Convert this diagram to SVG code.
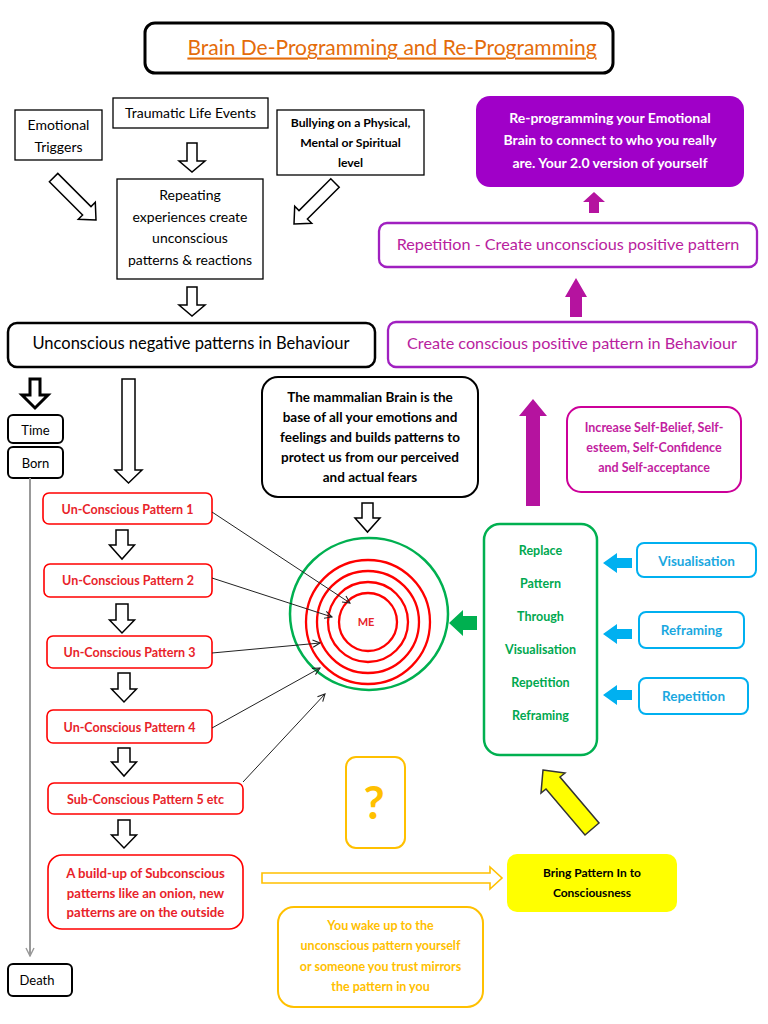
<svg xmlns="http://www.w3.org/2000/svg" width="768" height="1024" viewBox="0 0 768 1024">
<defs>
<style>
text{font-family:Lato,"Open Sans","Liberation Sans",sans-serif;text-anchor:middle;dominant-baseline:central}
.blk{fill:#000;font-size:14px}
.bb{fill:#000;font-size:13.5px;font-weight:bold}
.red{fill:#E8232A;font-size:12.5px;font-weight:bold}
.grn{fill:#00A84F;font-size:12.5px;font-weight:bold}
.blu{fill:#1AA8E0;font-size:13.5px;font-weight:bold}
.mag{fill:#C21DA0;font-size:12.5px;font-weight:bold}
.gold{fill:#FFC000;font-size:12.5px;font-weight:bold}
.box{fill:#fff;stroke:#000;stroke-width:1.3}
.rbox{fill:#fff;stroke:#000;stroke-width:2.5}
.pbox{fill:#fff;stroke:#FF0000;stroke-width:1.6}
.hollow{fill:#fff;stroke:#000;stroke-width:1.5;stroke-linejoin:miter}
.conn{stroke:#222;stroke-width:1;fill:none}
</style>
<marker id="open" viewBox="0 0 10 10" refX="9" refY="5" markerWidth="9" markerHeight="9" orient="auto" markerUnits="userSpaceOnUse">
<path d="M1,1 L9,5 L1,9" fill="none" stroke="#222" stroke-width="1.2"/>
</marker>
<marker id="grayopen" viewBox="0 0 10 10" refX="9" refY="5" markerWidth="10" markerHeight="10" orient="auto" markerUnits="userSpaceOnUse">
<path d="M1,1 L9,5 L1,9" fill="none" stroke="#999" stroke-width="1.4"/>
</marker>
</defs>
<rect width="768" height="1024" fill="#fff"/>

<g id="title">
<rect x="145" y="23" width="468" height="50" rx="10" fill="#fff" stroke="#000" stroke-width="3"/>
<text x="392" y="46" style="fill:#E46C0A;font-size:21px;text-decoration:underline">Brain De-Programming and Re-Programming</text>
</g>

<g id="emotional-triggers">
<rect class="box" x="15" y="110" width="87" height="50"/>
<text class="blk" x="58.5" y="124">Emotional</text>
<text class="blk" x="58.5" y="146">Triggers</text>
</g>
<g id="traumatic">
<rect class="box" x="113" y="98" width="155" height="30"/>
<text class="blk" x="190.5" y="112">Traumatic Life Events</text>
</g>
<g id="bullying">
<rect class="box" x="277" y="110" width="147" height="65"/>
<text class="bb" x="350.5" y="122" style="font-size:12.2px">Bullying on a Physical,</text>
<text class="bb" x="350.5" y="142" style="font-size:12.2px">Mental or Spiritual</text>
<text class="bb" x="350.5" y="162" style="font-size:12.2px">level</text>
</g>
<g id="repeating">
<rect class="box" x="117" y="179" width="146" height="100"/>
<text class="blk" x="190" y="194">Repeating</text>
<text class="blk" x="190" y="216">experiences create</text>
<text class="blk" x="190" y="237">unconscious</text>
<text class="blk" x="190" y="259">patterns &amp; reactions</text>
</g>
<g id="negative-patterns">
<rect class="rbox" x="8" y="323" width="367" height="44" rx="9"/>
<text x="191" y="343" style="fill:#000;font-size:16.5px">Unconscious negative patterns in Behaviour</text>
</g>
<g id="time">
<rect x="8" y="415" width="55" height="28" rx="5" fill="#fff" stroke="#000" stroke-width="2"/>
<text class="blk" x="35.5" y="430" style="font-size:13px">Time</text>
</g>
<g id="born">
<rect x="8" y="447" width="55" height="31" rx="5" fill="#fff" stroke="#000" stroke-width="2"/>
<text class="blk" x="35.5" y="463" style="font-size:13px">Born</text>
</g>
<g id="death">
<rect x="8" y="964" width="64" height="32" rx="5" fill="#fff" stroke="#000" stroke-width="2"/>
<text class="blk" x="37" y="980" style="font-size:13px">Death</text>
</g>

<g id="pattern1">
<rect class="pbox" x="43" y="493" width="169" height="31" rx="6"/>
<text class="red" x="127.5" y="509">Un-Conscious Pattern 1</text>
</g>
<g id="pattern2">
<rect class="pbox" x="44" y="564" width="168" height="33" rx="6"/>
<text class="red" x="128" y="580">Un-Conscious Pattern 2</text>
</g>
<g id="pattern3">
<rect class="pbox" x="47" y="636" width="165" height="32" rx="6"/>
<text class="red" x="129.5" y="652">Un-Conscious Pattern 3</text>
</g>
<g id="pattern4">
<rect class="pbox" x="47" y="710" width="165" height="33" rx="6"/>
<text class="red" x="129.5" y="727">Un-Conscious Pattern 4</text>
</g>
<g id="pattern5">
<rect class="pbox" x="48" y="783" width="195" height="31" rx="6"/>
<text class="red" x="145.5" y="799">Sub-Conscious Pattern 5 etc</text>
</g>
<g id="build-up">
<rect class="pbox" x="48" y="855" width="195" height="74" rx="14" stroke-width="2"/>
<text class="red" x="145.5" y="873" style="font-size:13.2px">A build-up of Subconscious</text>
<text class="red" x="145.5" y="893" style="font-size:13.2px">patterns like an onion, new</text>
<text class="red" x="145.5" y="912" style="font-size:13.2px">patterns are on the outside</text>
</g>

<g id="mammalian">
<rect x="262" y="377" width="216" height="120" rx="16" fill="#fff" stroke="#000" stroke-width="2"/>
<text class="bb" x="370" y="397">The mammalian Brain is the</text>
<text class="bb" x="370" y="417">base of all your emotions and</text>
<text class="bb" x="370" y="437">feelings and builds patterns to</text>
<text class="bb" x="370" y="457">protect us from our perceived</text>
<text class="bb" x="370" y="477">and actual fears</text>
</g>

<g id="me">
<ellipse cx="369" cy="614" rx="79" ry="76" fill="none" stroke="#00B050" stroke-width="2.5"/>
<circle cx="368" cy="622" r="62" fill="none" stroke="#FF0000" stroke-width="2.3"/>
<circle cx="368" cy="622" r="51" fill="none" stroke="#FF0000" stroke-width="2.3"/>
<circle cx="368" cy="622" r="40" fill="none" stroke="#FF0000" stroke-width="2.3"/>
<circle cx="368" cy="622" r="29" fill="none" stroke="#FF0000" stroke-width="2.3"/>
<text x="366" y="621" style="fill:#E8232A;font-size:11px;font-weight:bold">ME</text>
</g>

<g id="reprogramming">
<rect x="476" y="96" width="268" height="91" rx="14" fill="#A000C8"/>
<text x="610" y="117" style="fill:#fff;font-size:14px;font-weight:bold">Re-programming your Emotional</text>
<text x="610" y="139" style="fill:#fff;font-size:14px;font-weight:bold">Brain to connect to who you really</text>
<text x="610" y="162" style="fill:#fff;font-size:14px;font-weight:bold">are. Your 2.0 version of yourself</text>
</g>
<g id="repetition-positive">
<rect x="379" y="223" width="378" height="44" rx="8" fill="#fff" stroke="#A020C0" stroke-width="2.3"/>
<text x="568" y="243" style="fill:#B8219E;font-size:16.2px">Repetition - Create unconscious positive pattern</text>
</g>
<g id="conscious-positive">
<rect x="388" y="322" width="369" height="45" rx="8" fill="#fff" stroke="#A020C0" stroke-width="2.3"/>
<text x="572" y="342" style="fill:#B8219E;font-size:16.2px">Create conscious positive pattern in Behaviour</text>
</g>
<g id="self-belief">
<rect x="567" y="407" width="174" height="85" rx="14" fill="#fff" stroke="#CC0099" stroke-width="2"/>
<text class="mag" x="654" y="427">Increase Self-Belief, Self-</text>
<text class="mag" x="654" y="447">esteem, Self-Confidence</text>
<text class="mag" x="654" y="467">and Self-acceptance</text>
</g>
<g id="replace">
<rect x="484" y="524" width="113" height="231" rx="16" fill="#fff" stroke="#00B050" stroke-width="2.5"/>
<text class="grn" x="540.5" y="550">Replace</text>
<text class="grn" x="540.5" y="583">Pattern</text>
<text class="grn" x="540.5" y="616">Through</text>
<text class="grn" x="540.5" y="649">Visualisation</text>
<text class="grn" x="540.5" y="682">Repetition</text>
<text class="grn" x="540.5" y="715">Reframing</text>
</g>
<g id="visualisation">
<rect x="637" y="543" width="119" height="34" rx="7" fill="#fff" stroke="#00B0F0" stroke-width="2"/>
<text class="blu" x="696.5" y="561">Visualisation</text>
</g>
<g id="reframing">
<rect x="639" y="612" width="105" height="36" rx="7" fill="#fff" stroke="#00B0F0" stroke-width="2"/>
<text class="blu" x="691.5" y="630">Reframing</text>
</g>
<g id="repetition">
<rect x="639" y="678" width="109" height="36" rx="7" fill="#fff" stroke="#00B0F0" stroke-width="2"/>
<text class="blu" x="693.5" y="696">Repetition</text>
</g>
<g id="question">
<rect x="346" y="757" width="59" height="91" rx="10" fill="#fff" stroke="#FFC000" stroke-width="2"/>
<text x="374" y="801" style="fill:#FFC000;font-size:46px;font-weight:bold">?</text>
</g>
<g id="bring-pattern">
<rect x="507" y="854" width="170" height="58" rx="10" fill="#FFFF00"/>
<text class="bb" x="592" y="872" style="font-size:12px">Bring Pattern In to</text>
<text class="bb" x="592" y="892" style="font-size:12px">Consciousness</text>
</g>
<g id="wake-up">
<rect x="278" y="907" width="205" height="100" rx="16" fill="#fff" stroke="#FFC000" stroke-width="2"/>
<text class="gold" x="380.5" y="925">You wake up to the</text>
<text class="gold" x="380.5" y="945">unconscious pattern yourself</text>
<text class="gold" x="380.5" y="966">or someone you trust mirrors</text>
<text class="gold" x="380.5" y="986">the pattern in you</text>
</g>

<g id="connectors">
<path class="hollow" d="M187,143 H197 V161 H205 L192,172 L179,161 H187 Z"/>
<path class="hollow" d="M187,287 H197 V305 H205 L192,316 L179,305 H187 Z"/>
<path class="hollow" d="M96,220 L78.3,219.3 L82.6,215 L49.4,181.8 L57.8,173.4 L91,206.6 L95.3,202.3 Z"/>
<path class="hollow" d="M294,224 L294.7,206.3 L299,210.6 L330.8,178.8 L339.2,187.2 L307.4,219 L311.7,223.3 Z"/>
<path class="hollow" style="stroke-width:3" d="M30,379 H40 V395 H48 L35,408 L22,395 H30 Z"/>
<path class="hollow" d="M122,379 H135 V470 H142 L128.5,483 L115,470 H122 Z"/>
<path class="hollow" d="M116,530 H128 V545 H134.5 L122,559 L109.5,545 H116 Z"/>
<path class="hollow" d="M116,604 H128 V620 H134.5 L122,633 L109.5,620 H116 Z"/>
<path class="hollow" d="M118,673 H130 V689 H136.5 L124,702 L111.5,689 H118 Z"/>
<path class="hollow" d="M118,748 H130 V762 H136.5 L124,776 L111.5,762 H118 Z"/>
<path class="hollow" d="M118,820 H130 V835 H136.5 L124,848 L111.5,835 H118 Z"/>
<path class="hollow" d="M362,503 H373 V518 H380 L367.5,532 L355,518 H362 Z"/>
<line x1="30" y1="478" x2="30" y2="956" stroke="#999" stroke-width="2" marker-end="url(#grayopen)"/>
<line class="conn" x1="212" y1="512" x2="350" y2="603" marker-end="url(#open)"/>
<line class="conn" x1="212" y1="578" x2="332" y2="617" marker-end="url(#open)"/>
<line class="conn" x1="212" y1="653" x2="320" y2="643" marker-end="url(#open)"/>
<line class="conn" x1="212" y1="728" x2="320" y2="668" marker-end="url(#open)"/>
<line class="conn" x1="243" y1="782" x2="325" y2="694" marker-end="url(#open)"/>
<path fill="#B5139F" d="M594,192 L605,202 H599 V213 H589 V202 H583 Z"/>
<path fill="#B5139F" d="M576,278 L587,297 H582 V317 H570 V297 H565 Z"/>
<path fill="#B5139F" d="M533,399 L547,416 H540 V506 H526 V416 H519 Z"/>
<path fill="#00B050" d="M449,623 L463,610 V616 H477 V630 H463 V636 Z"/>
<path fill="#00B0F0" d="M603,563 L617,553 V558 H632 V568 H617 V573 Z"/>
<path fill="#00B0F0" d="M603,634 L617,624 V629 H632 V639 H617 V644 Z"/>
<path fill="#00B0F0" d="M603,695 L617,685 V690 H632 V700 H617 V705 Z"/>
<path fill="#fff" stroke="#FFC000" stroke-width="1.6" d="M262,873 H490 V867 L502,878 L490,889 V883 H262 Z"/>
<path fill="#FFFF00" stroke="#333" stroke-width="1.5" stroke-linejoin="miter" d="M543,770 L565,773 L560,777 L599,823 L585,835 L546,789 L541,793 Z"/>
</g>
</svg>
